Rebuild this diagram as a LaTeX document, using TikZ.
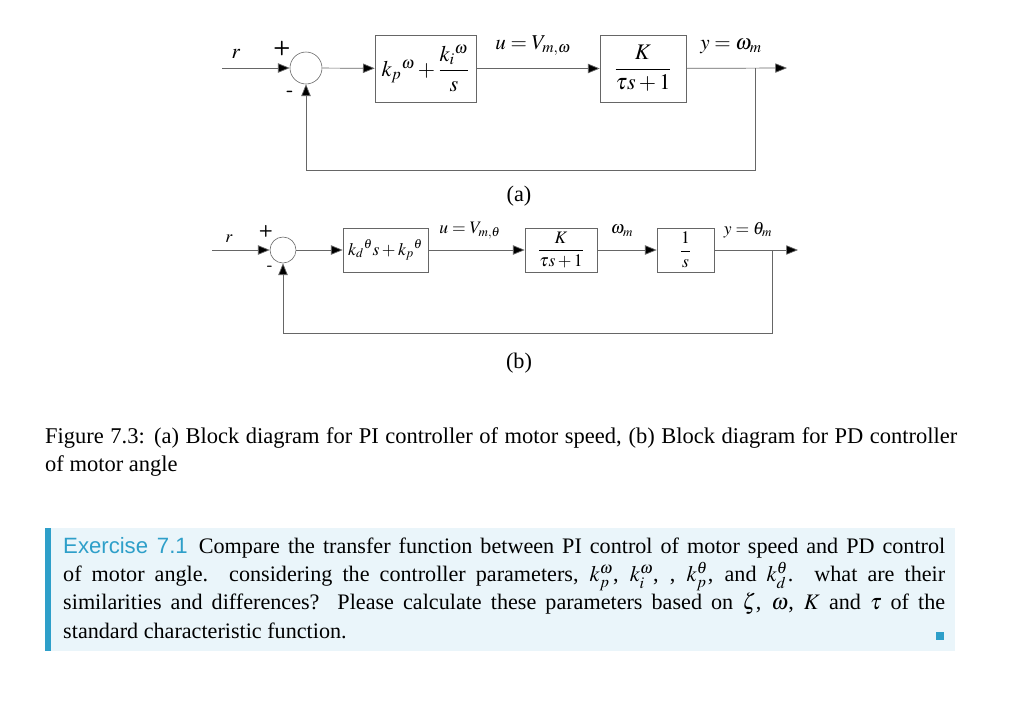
\documentclass[tikz,border=0pt]{standalone}
\usepackage{amsmath}
\usepackage{mathptmx}
\usepackage{fontspec}
\setmainfont{Liberation Serif}
\newfontfamily\exsans{Liberation Sans}
\usetikzlibrary{arrows.meta}
\definecolor{exblue}{HTML}{2E9FC9}
\definecolor{exbg}{HTML}{EAF5FA}
\begin{document}
\begin{tikzpicture}[x=0.03cm,y=-0.03cm,
  blk/.style={draw=black!60,line width=0.5pt,minimum height=#1,inner sep=1pt},
  sum/.style={circle,draw=black!60,line width=0.5pt,inner sep=0pt},
  sig/.style={draw=black!60,line width=0.6pt,-{Triangle[length=10pt,width=8pt,fill=black]}},
  lab/.style={font=\fontsize{18}{20}\selectfont},
  labs/.style={font=\fontsize{15}{17}\selectfont},
  sgn/.style={font=\sffamily\bfseries\fontsize{17}{17}\selectfont}]
\useasboundingbox (0,0) rectangle (1024,717);
% (a)
\node[sum,minimum size=32*0.03cm] (s1) at (306,68) {};
\node[blk=67*0.03cm,minimum width=101*0.03cm] (c1) at (425.5,68.5) {\fontsize{19}{21}\selectfont$k_p{}^{\omega}+\dfrac{k_i{}^{\omega}}{s}$};
\node[blk=67*0.03cm,minimum width=86*0.03cm] (p1) at (643,68.5) {\fontsize{19}{21}\selectfont$\dfrac{K}{\tau s+1}$};
\coordinate (r1) at (222,68);
\coordinate (o1) at (787,68);
\coordinate (f1) at (755,68);
\node[lab] at (236,54) {$r$};
\node[sgn] at (282,49) {+};
\node[sgn] at (290,94) {-};
\node[lab] at (533,46) {$u=V_{m,\omega}$};
\node[lab] at (731,46) {$y=\omega_m$};
\draw[sig] (r1) -- (s1);
\draw[sig] (s1) -- (c1);
\draw[sig] (c1) -- (p1);
\draw[sig] (p1) -- (o1);
\draw[sig] (f1) |- (306,170) -- (s1);
\node[font=\fontsize{19}{21}\selectfont] at (519,196) {(a)};
% (b)
\node[sum,minimum size=26*0.03cm] (s2) at (283,250) {};
\node[blk=44*0.03cm,minimum width=85*0.03cm] (c2) at (385.5,250) {\fontsize{15}{17}\selectfont$k_d{}^{\theta}s+k_p{}^{\theta}$};
\node[blk=44*0.03cm,minimum width=72*0.03cm] (p2) at (561,250) {\fontsize{15}{17}\selectfont$\dfrac{K}{\tau s+1}$};
\node[blk=44*0.03cm,minimum width=57*0.03cm] (i2) at (685.5,250) {\fontsize{15}{17}\selectfont$\dfrac{1}{s}$};
\coordinate (r2) at (212,250);
\coordinate (o2) at (798,250);
\coordinate (f2) at (772,250);
\node[labs] at (229,239) {$r$};
\node[sgn,font=\sffamily\bfseries\fontsize{14}{14}\selectfont] at (266,231) {+};
\node[sgn,font=\sffamily\bfseries\fontsize{14}{14}\selectfont] at (270,268) {-};
\node[labs] at (470,231) {$u=V_{m,\theta}$};
\node[labs] at (622,231) {$\omega_m$};
\node[labs] at (748,230) {$y=\theta_m$};
\draw[sig] (r2) -- (s2);
\draw[sig] (s2) -- (c2);
\draw[sig] (c2) -- (p2);
\draw[sig] (p2) -- (i2);
\draw[sig] (i2) -- (o2);
\draw[sig] (f2) |- (283,333) -- (s2);
\node[font=\fontsize{19}{21}\selectfont] at (519,363) {(b)};
% caption
\node[anchor=north west,text width=912*0.03cm,align=justify,inner sep=0pt,font=\fontsize{19.2}{24}\selectfont] (cap) at (45,427) {\hyphenpenalty=10000 Figure 7.3: (a) Block diagram for PI controller of motor speed, (b) Block diagram for PD controller\linebreak of motor angle};
% exercise
\fill[exbg] (45,528) rectangle (955,651);
\fill[exblue] (45,528) rectangle (51,651);
\node[anchor=north west,text width=882*0.03cm,align=justify,inner sep=0pt,font=\fontsize{18.9}{24.2}\selectfont] (ex) at (63,537) {\hyphenpenalty=10000 {\exsans\color{exblue}Exercise 7.1}\enspace Compare the transfer function between PI control of motor speed and PD control\linebreak of motor angle. considering the controller parameters, $k_p^{\omega}$, $k_i^{\omega}$, , $k_p^{\theta}$, and $k_d^{\theta}$. what are their\linebreak similarities and differences? Please calculate these parameters based on $\zeta$, $\omega$, $K$ and $\tau$ of the\linebreak standard characteristic function.};
\fill[exblue] (936,632) rectangle (944,640);
\end{tikzpicture}
\end{document}
